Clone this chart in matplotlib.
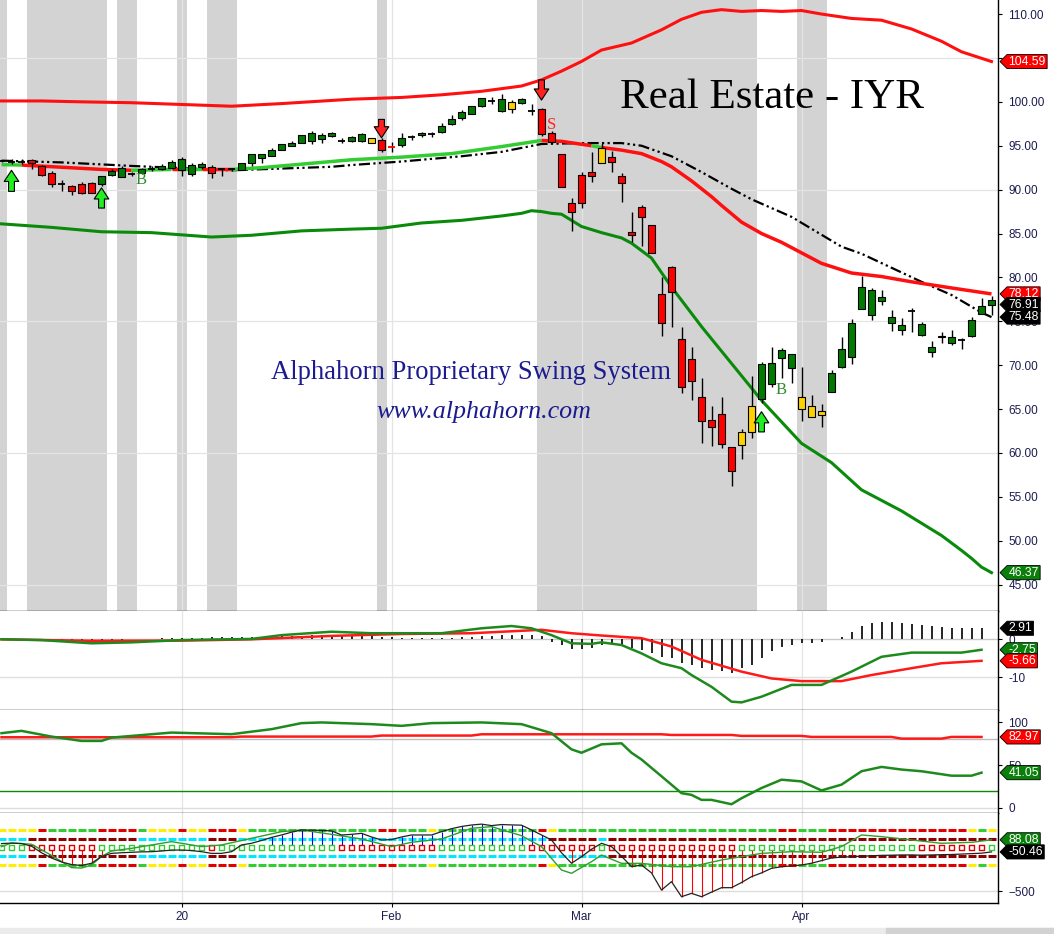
import numpy as np
import matplotlib
matplotlib.use("Agg")
import matplotlib.pyplot as plt
from matplotlib.path import Path
from matplotlib.patches import Rectangle, FancyArrowPatch

plt.rcParams['font.family'] = ['Liberation Sans', 'DejaVu Sans']

# trading-day index: 0 = first session of 2020
idx = np.arange(-18, 82)

opens = [93.26, 93.2, 93.2, 93.4, 92.7, 91.85, 90.6, 90.4, 90.6, 90.7,
         90.6, 91.67, 91.47, 91.75, 91.9, 92.4, 92.3, 92.42, 92.23, 91.78,
         92.53, 92.6, 92.35, 92.3, 92.23, 93.07, 93.56, 93.86, 94.5, 95.0,
         95.34, 95.57, 95.72, 96.1, 95.57, 95.57, 95.57, 95.27, 95.6, 94.9,
         95.08, 95.95, 96.2, 96.33, 96.52, 97.47, 98.19, 98.61, 99.52, 100.13,
         98.99, 99.14, 99.83, 98.99, 99.14, 96.48, 94.05, 88.44, 91.66, 91.97,
         93.07, 93.68, 91.55, 85.2, 87.98, 85.97, 78.07, 81.22, 72.95, 70.67,
         66.34, 63.76, 64.44, 60.65, 60.91, 62.43, 66.11, 67.86, 70.78, 69.64,
         65.01, 64.06, 64.33, 66.99, 69.76, 70.89, 76.36, 75.72, 77.35, 74.77,
         74.01, 76.21, 73.44, 71.46, 73.17, 72.49, 72.87, 73.32, 75.79, 77.42]
highs = [93.4, 93.5, 93.45, 93.5, 92.8, 92.15, 91.1, 90.5, 90.9, 90.85,
         91.55, 92.4, 92.7, 92.05, 92.5, 92.65, 92.9, 93.37, 93.68, 93.0,
         93.18, 92.8, 92.5, 92.45, 93.0, 94.05, 94.1, 94.7, 95.19, 95.57,
         96.22, 96.67, 96.4, 96.6, 95.84, 96.1, 96.4, 95.84, 95.84, 95.45,
         96.4, 96.22, 96.6, 96.6, 97.55, 98.5, 99.07, 99.52, 100.39, 100.5,
         100.89, 100.2, 100.4, 99.75, 99.25, 96.7, 94.05, 89.0, 92.04, 94.32,
         95.27, 94.43, 91.85, 87.49, 88.2, 85.97, 80.08, 81.3, 74.4, 72.1,
         68.5, 65.35, 66.42, 60.65, 62.7, 68.77, 70.4, 72.04, 71.92, 71.24,
         69.83, 66.6, 65.58, 69.45, 73.17, 75.22, 80.16, 78.75, 78.56, 76.3,
         75.34, 76.55, 74.96, 72.79, 73.82, 74.01, 73.06, 75.45, 77.61, 77.88]
lows = [93.1, 92.9, 92.95, 92.4, 91.5, 90.3, 89.8, 89.4, 89.46, 89.65,
        90.4, 91.5, 91.4, 91.5, 91.8, 92.15, 92.2, 92.3, 91.55, 91.55,
        92.3, 91.36, 91.6, 92.15, 92.23, 92.7, 93.07, 93.86, 94.5, 95.0,
        95.34, 95.19, 95.27, 96.0, 95.27, 95.46, 95.46, 95.27, 94.32, 94.32,
        94.9, 95.65, 96.03, 95.95, 96.4, 97.36, 97.93, 98.61, 99.37, 99.75,
        98.88, 98.76, 99.75, 98.5, 96.1, 95.27, 90.26, 85.32, 87.94, 90.9,
        93.0, 92.04, 88.63, 84.07, 83.6, 82.82, 73.33, 74.4, 66.87, 66.0,
        61.1, 60.8, 60.53, 56.24, 59.28, 61.67, 65.66, 67.5, 68.51, 67.94,
        63.68, 64.06, 63.0, 66.9, 69.64, 70.1, 76.36, 75.15, 76.85, 73.93,
        73.44, 73.82, 73.33, 70.97, 72.49, 72.3, 71.8, 73.17, 75.79, 75.7]
closes = [93.26, 93.2, 93.2, 93.0, 91.7, 90.6, 90.6, 89.85, 89.6, 89.65,
          91.55, 92.15, 92.5, 91.75, 92.4, 92.4, 92.7, 93.18, 93.5, 92.8,
          92.9, 91.85, 92.35, 92.3, 93.0, 94.05, 94.05, 94.5, 95.19, 95.34,
          96.22, 96.48, 96.22, 96.48, 95.57, 95.95, 96.29, 95.84, 94.5, 94.9,
          95.84, 95.95, 96.4, 96.33, 97.24, 98.04, 98.8, 99.52, 100.39, 100.13,
          100.28, 100.01, 100.28, 98.99, 96.33, 95.46, 90.26, 87.41, 88.51, 91.59,
          94.7, 93.1, 90.79, 84.8, 86.84, 82.82, 74.77, 78.38, 67.48, 68.24,
          63.68, 63.0, 61.03, 57.91, 62.43, 65.35, 70.14, 70.2, 71.73, 71.24,
          66.34, 65.35, 64.78, 69.08, 71.8, 74.77, 78.87, 78.56, 77.8, 75.45,
          74.58, 76.21, 74.69, 72.03, 73.36, 73.17, 72.87, 75.15, 76.78, 76.91]
# swing-system candle colour: g = long, r = short, y = neutral, k = doji
signal = ['k', 'k', 'k', 'r', 'r', 'r', 'k', 'r', 'r', 'r',
          'g', 'g', 'g', 'k', 'g', 'k', 'g', 'g', 'g', 'g',
          'g', 'r', 'k', 'k', 'g', 'g', 'g', 'g', 'g', 'g',
          'g', 'g', 'g', 'g', 'k', 'g', 'g', 'y', 'r', 'r',
          'g', 'k', 'g', 'k', 'g', 'g', 'g', 'g', 'g', 'k',
          'g', 'y', 'g', 'k', 'r', 'r', 'r', 'r', 'r', 'r',
          'y', 'r', 'r', 'r', 'r', 'r', 'r', 'r', 'r', 'r',
          'r', 'r', 'r', 'r', 'y', 'y', 'g', 'g', 'g', 'g',
          'y', 'y', 'y', 'g', 'g', 'g', 'g', 'g', 'g', 'g',
          'g', 'k', 'g', 'g', 'g', 'g', 'k', 'g', 'g', 'g']

# shaded sessions (first, last)
shade = [(-18, -18), (-15, -8), (-6, -5), (0, 0), (3, 5), (20, 20), (36, 57), (62, 64)]

upper_x = [-18, -14, -10, -5, 0, 5, 10, 17, 22, 26, 30, 34, 36, 38, 40, 42, 45, 48,
           50, 52, 54, 56, 58, 60, 62, 64, 67, 70, 73, 76, 78, 81]
upper_y = [100.1, 100.1, 100.0, 99.9, 99.7, 99.5, 99.8, 100.3, 100.5, 100.8, 101.2, 101.8,
           102.5, 103.5, 104.6, 105.9, 106.7, 108.2, 109.4, 110.2, 110.5, 110.3, 110.4,
           110.3, 110.4, 110.0, 109.5, 109.3, 108.3, 106.9, 105.7, 104.59]
lower_x = [-18, -13, -8, -3, 3, 7, 12, 17, 20, 22, 24, 28, 32, 34, 35, 36, 37, 38, 39,
           40, 42, 44, 45, 47, 49, 52, 55, 58, 62, 65, 68, 70, 72, 76, 78, 79, 80, 81]
lower_y = [86.1, 85.7, 85.2, 85.1, 84.6, 84.8, 85.3, 85.5, 85.6, 85.9, 86.2, 86.5, 87.0,
           87.3, 87.6, 87.5, 87.3, 87.2, 86.5, 85.8, 85.1, 84.5, 83.9, 82.2, 78.9, 74.4,
           70.2, 66.0, 61.1, 58.9, 55.8, 54.6, 53.4, 50.6, 48.9, 48.0, 47.0, 46.37]
mid_x = [-18, -16, -12, -8, -5, -3, -1, 0, 2, 5, 8, 12, 17, 22, 27, 32, 36, 38, 41, 42,
         44, 46, 48, 49, 51, 53, 54, 56, 58, 60, 62, 64, 67, 70, 73, 77, 81]
mid_y = [92.85, 92.8, 92.55, 92.3, 92.2, 92.25, 92.3, 92.3, 92.3, 92.3, 92.5, 92.9, 93.4,
         93.7, 94.1, 94.9, 95.6, 95.5, 95.0, 94.8, 94.5, 94.1, 93.2, 92.6, 91.0, 89.2,
         88.2, 86.3, 85.0, 84.0, 82.8, 81.6, 80.5, 80.1, 79.5, 78.8, 78.12]
mid_trend = [(-18, -16, 'g'), (-16, -5, 'r'), (-5, -1, 'g'), (-1, 0, 'r'), (0, 2, 'g'),
             (2, 5, 'r'), (5, 36, 'g'), (36, 41, 'r'), (41, 42, 'g'), (42, 81, 'r')]
slow_x = [-18, -12, -5, 5, 15, 17, 22, 28, 32, 36, 40, 44, 46, 49, 52, 55, 57, 61, 66,
          68, 71, 74, 77, 80, 81]
slow_y = [93.3, 93.1, 92.7, 92.2, 92.6, 92.8, 93.2, 93.8, 94.3, 95.2, 95.3, 95.3, 95.0,
          93.8, 92.0, 90.1, 88.9, 86.9, 83.5, 82.7, 81.1, 79.5, 78.0, 76.0, 75.48]

# signals: (session, arrow base, arrow tip)
buy_arrows = [(-17, 89.8, 92.2), (-8, 87.9, 90.2), (58, 62.4, 64.7)]
sell_arrows = [(20, 98.0, 95.9), (36, 102.5, 100.2)]
letters = [(-4, 91.1, 'B', '#2E8B2E'), (37, 97.4, 'S', '#FF2020'), (60, 67.2, 'B', '#2E8B2E')]

# MACD panel
macd_x = [-18, -14, -9, -5, 0, 7, 10, 15, 19, 22, 26, 30, 33, 35, 37, 39, 41, 42, 44,
          46, 48, 50, 51, 53, 55, 56, 58, 61, 64, 67, 70, 73, 78, 80]
macd_y = [0, -0.2, -1.05, -0.8, -0.2, 0.1, 1.1, 2.0, 1.6, 1.6, 1.6, 2.9, 3.5, 2.9, 1.1,
          -1.05, -1.2, -0.8, -1.5, -3.7, -6.3, -7.6, -9.4, -12.5, -16.4, -16.6, -15.1,
          -12.0, -12.0, -8.5, -4.6, -3.5, -3.5, -2.75]
sig_x = [-18, -9, 0, 7, 15, 22, 29, 36, 39, 42, 46, 49, 52, 56, 59, 62, 66, 69, 73, 76, 80]
sig_y = [0, -0.4, -0.35, 0, 0.9, 1.4, 1.6, 2.5, 1.6, 1.0, 0.3, -1.9, -5.4, -8.5, -10.3,
         -11.0, -11.0, -9.4, -7.6, -6.3, -5.66]
hist_x = np.arange(-18, 81)
hist_y = [0.0, -0.05, -0.1, -0.2, -0.3, -0.4, -0.5, -0.5, -0.5, -0.4,
          -0.3, -0.2, -0.1, 0.0, 0.1, 0.2, 0.3, 0.3, 0.4, 0.4,
          0.4, 0.5, 0.5, 0.5, 0.5, 0.6, 0.7, 0.8, 0.9, 1.0,
          1.0, 1.1, 1.1, 1.1, 1.0, 1.0, 0.9, 0.8, 0.7, 0.5,
          0.4, 0.4, 0.3, 0.3, 0.3, 0.4, 0.5, 0.6, 0.8, 1.0,
          1.1, 1.2, 1.2, 1.1, 0.9, -0.6, -1.5, -2.5, -2.5, -2.4,
          -1.5, -1.3, -1.5, -2.4, -2.8, -3.7, -4.6, -5.0, -6.3, -6.8,
          -7.6, -8.1, -8.3, -8.8, -7.6, -6.8, -5.0, -3.2, -2.1, -1.5,
          -1.05, -0.9, -0.8, 0.1, 0.7, 2.0, 3.5, 4.2, 4.6, 4.5,
          4.2, 4.0, 3.8, 3.6, 3.3, 2.9, 2.9, 2.9, 2.91]

# stochastic panel
stk_x = [-18, -16, -13, -10, -8, -7, -1, 5, 9, 12, 14, 19, 22, 25, 30, 34, 37, 39, 40, 42,
         44, 45, 46, 48, 50, 51, 52, 53, 55, 56, 58, 60, 62, 64, 66, 68, 70, 72, 74, 77,
         79, 80]
stk_y = [87.4, 90.1, 83.4, 78.3, 78.3, 82.2, 88.1, 86.2, 92.1, 99.2, 100, 98, 96, 99.2,
         100, 98, 87.4, 68.4, 64.4, 74.3, 75.5, 64.4, 56.5, 36.8, 17, 15, 9.1, 9.1, 4, 11,
         23, 32.8, 30.8, 20.2, 27, 42.7, 47.8, 44.7, 42.7, 37.5, 37.5, 41.05]
std_x = [-18, 5, 6, 19, 20, 29, 30, 48, 49, 55, 56, 62, 63, 71, 72, 76, 77, 80]
std_y = [82.6, 82.6, 83.4, 83.4, 84.6, 84.6, 86.1, 86.1, 85.3, 85.3, 84.2, 84.2, 83.0,
         83.0, 81.0, 81.0, 83.0, 82.97]

# CCI panel
cci_fast = [45, 50, 45, 15, -60, -120, -165, -195, -206, -180,
            -103, -67, -60, -55, -50, -48, -40, -30, -29, -35,
            -48, -67, -67, -48, 29, 48, 80, 115, 143, 175,
            200, 198, 195, 190, 143, 150, 162, 120, 86, 90,
            120, 143, 143, 143, 181, 215, 240, 257, 267, 250,
            262, 258, 255, 200, 143, 86, -60, -180, -105, -20,
            48, 10, -100, -219, -200, -290, -486, -390, -562, -524,
            -562, -510, -459, -459, -400, -333, -290, -238, -220, -210,
            -200, -180, -150, -120, -110, -105, -100, -95, -90, -88,
            -85, -85, -88, -85, -82, -80, -75, -70, -65, -50.46]
slow_cci_x = [-18, -17, -15, -13, -11, -10, -9, -8, -7, -5, -1, 2, 4, 7, 10, 12, 15, 18,
              21, 23, 26, 29, 31, 34, 36, 38, 39, 41, 42, 44, 46, 49, 51, 54, 58, 61, 64,
              66, 68, 70, 73, 76, 79, 81]
slow_cci_y = [10, 52, 37, -90, -230, -235, -200, -103, -40, -10, 67, 10, 29, 105, 181, 200,
              150, 97, 10, 59, 97, 219, 238, 135, 10, -257, -295, -162, -86, -181, -181,
              -219, -219, -143, -67, -48, -55, 10, 143, 124, 86, 48, 59, 88.08]
outer_runs = [('y', 4), ('r', 1), ('g', 5), ('r', 4), ('g', 1), ('y', 3), ('r', 1), ('y', 2),
              ('r', 3), ('y', 1), ('g', 13), ('r', 2), ('g', 3), ('y', 1), ('g', 10), ('r', 1),
              ('y', 1), ('g', 22), ('r', 2), ('g', 3), ('r', 14), ('y', 1), ('g', 1), ('y', 1)]
upper_runs = [('c', 3), ('m', 11), ('c', 7), ('m', 3), ('c', 31), ('m', 5), ('c', 1), ('m', 39)]
lower_runs = [('c', 3), ('m', 11), ('c', 7), ('m', 3), ('c', 37), ('m', 39)]
zero_runs = [('g', 3), ('r', 7), ('g', 11), ('r', 1), ('g', 12), ('r', 10), ('g', 9), ('r', 7),
             ('g', 1), ('r', 13), ('g', 18), ('r', 7), ('g', 1)]

month_pos = [0, 21, 40, 62]
month_lbl = ['20', 'Feb', 'Mar', 'Apr']

candle_col = {'g': '#007A00', 'r': '#FF0000', 'y': '#FFD000', 'k': 'black'}
strip_col = {'y': '#FFEE00', 'r': '#E00000', 'g': '#33CC33', 'c': '#00E8FF', 'm': '#8B0000'}
tick_col = '#1C1C50'


def expand(runs):
    out = []
    for code, n in runs:
        out += [code] * n
    return out


def tag_box(x0, y0, width, height, mutation_size):
    pad = 0.22 * mutation_size
    x0, y0 = x0 - pad * 0.5, y0 - pad * 0.4
    x1, y1 = x0 + width + pad, y0 + height + pad * 0.8
    ym = (y0 + y1) / 2
    tip = (y1 - y0) / 2
    return Path([(x0 - tip, ym), (x0, y1), (x1, y1), (x1, y0), (x0, y0), (x0 - tip, ym)],
                closed=True)


def tag(ax, value, color):
    ax.annotate(f"{value:.2f}", xy=(1, value), xycoords=('axes fraction', 'data'),
                xytext=(7.5, 0), textcoords='offset points', ha='left', va='center',
                color='white', fontsize=8.8, annotation_clip=False, zorder=10,
                bbox=dict(boxstyle=tag_box, fc=color, ec='black', lw=0.6))


W, H = 1054, 934
fig = plt.figure(figsize=(W / 100, H / 100), dpi=100)


def panel(top, bottom):
    ax = fig.add_axes([0, 1 - bottom / H, 998 / W, (bottom - top) / H])
    ax.set_xlim(-18.15, 81.65)
    for s in ('top', 'left'):
        ax.spines[s].set_visible(False)
    for s in ('right', 'bottom'):
        ax.spines[s].set_linewidth(1.0)
    ax.yaxis.tick_right()
    ax.tick_params(axis='y', direction='out', length=3, width=0.8, pad=4.5,
                   labelsize=8.5, labelcolor=tick_col)
    ax.set_xticks([])
    for m in month_pos:
        ax.axvline(m, color='#E4E4E4', lw=0.9, zorder=0.5)
    return ax


# ---- main price panel ----
ax = panel(0, 611)
ax.set_ylim(42.0, 111.6)
levels = np.arange(45, 111, 5)
ax.set_yticks(levels)
# the 105 label sits under the upper-band tag
ax.set_yticklabels(['' if v == 105 else f"{v:.2f}" for v in levels])
for a, b in shade:
    ax.axvspan(a - 0.5, b + 0.5, color='#D3D3D3', lw=0, zorder=0)
for lvl in (45, 60, 75, 90, 105):
    ax.axhline(lvl, color='#E4E4E4', lw=0.9, zorder=0.5)

ax.plot(upper_x, upper_y, color='#FF1010', lw=2.2, zorder=2)
ax.plot(lower_x, lower_y, color='#0A8A0A', lw=2.2, zorder=2)
ax.plot(slow_x, slow_y, color='black', lw=1.6, dashes=(5, 1.5, 1, 1.5, 1, 1.5), zorder=2)
mx, my = np.array(mid_x), np.array(mid_y)
for a, b, code in mid_trend:
    sel = (mx >= a) & (mx <= b)
    ax.plot(mx[sel], my[sel], color='#33CC33' if code == 'g' else '#FF1010',
            lw=2.5, solid_capstyle='butt', zorder=2.2)

o, c = np.array(opens), np.array(closes)
lo_b, hi_b = np.minimum(o, c), np.maximum(o, c)
sig = np.array(signal)
ax.vlines(idx, lows, highs, color='black', lw=1.0, zorder=3)
solid = (hi_b - lo_b) > 0.08
ax.bar(idx[solid], (hi_b - lo_b)[solid], bottom=lo_b[solid], width=0.7,
       color=[candle_col[k] for k in sig[solid]], edgecolor='black', linewidth=0.8, zorder=4)
ax.hlines(c[~solid], idx[~solid] - 0.38, idx[~solid] + 0.38,
          colors=[candle_col[k] for k in sig[~solid]], lw=1.3, zorder=4)

arrow_style = 'simple,head_length=0.8,head_width=1.05,tail_width=0.42'
for arrows, fill in ((buy_arrows, '#22EE22'), (sell_arrows, '#FF2020')):
    for i, base, tip in arrows:
        ax.add_patch(FancyArrowPatch((i, base), (i, tip), arrowstyle=arrow_style,
                                     mutation_scale=10, shrinkA=0, shrinkB=0,
                                     fc=fill, ec='black', lw=0.8, zorder=5))
for i, v, t, col in letters:
    ax.text(i, v, t, color=col, fontsize=12, family='Liberation Serif',
            ha='center', va='center', zorder=5)

for v, col in [(104.59, '#FF0000'), (78.12, '#FF0000'), (76.91, 'black'),
               (75.48, 'black'), (46.37, '#0A7F0A')]:
    tag(ax, v, col)

# ---- MACD ----
ax2 = panel(611, 710)
ax2.set_ylim(-18.6, 7.45)
ax2.set_yticks([0, -10])
ax2.set_yticklabels(['0', '-10'])
ax2.axhline(0, color='#C8C8C8', lw=1.0, zorder=0.5)
ax2.axhline(-10, color='#E0E0E0', lw=1.0, zorder=0.5)
ax2.vlines(hist_x, 0, hist_y, color='black', lw=1.2, zorder=2)
ax2.plot(sig_x, sig_y, color='#FF1A1A', lw=1.8, zorder=3)
ax2.plot(macd_x, macd_y, color='#1E8A1E', lw=1.8, zorder=3)
for v, col in [(2.91, 'black'), (-2.75, '#0A7F0A'), (-5.66, '#FF0000')]:
    tag(ax2, v, col)

# ---- stochastic ----
ax3 = panel(710, 813)
ax3.set_ylim(-6.3, 114.6)
ax3.set_yticks([0, 50, 100])
ax3.axhline(80, color='#BDBDBD', lw=1.0, zorder=0.5)
ax3.axhline(0, color='#DDDDDD', lw=1.0, zorder=0.5)
ax3.axhline(20, color='#0A8A0A', lw=1.0, zorder=0.6)
ax3.plot(std_x, std_y, color='#FF1A1A', lw=1.8, zorder=3)
ax3.plot(stk_x, stk_y, color='#1E8A1E', lw=1.8, zorder=3)
for v, col in [(82.97, '#FF0000'), (41.05, '#0A7F0A')]:
    tag(ax3, v, col)

# ---- CCI ----
ax4 = panel(813, 903)
ax4.set_ylim(-634, 394)
ax4.set_yticks([-500])
ax4.axhline(-500, color='#DDDDDD', lw=1.0, zorder=0.5)
for lvl, runs in [(200, outer_runs), (-200, outer_runs), (100, upper_runs), (-100, lower_runs)]:
    cols = [strip_col[k] for k in expand(runs)]
    ax4.hlines(np.full(len(idx), lvl), idx - 0.4, idx + 0.4, colors=cols, lw=2.2, zorder=1)
cf = np.array(cci_fast)
up = cf > 100
dn = cf < -100
ax4.vlines(idx[up], 0, cf[up], color='#0000FF', lw=0.8, zorder=1.5)
ax4.vlines(idx[dn], cf[dn], 0, color='#FF0000', lw=0.8, zorder=1.5)
zc = [strip_col[k] for k in expand(zero_runs)]
ax4.scatter(idx, np.zeros(len(idx)), marker='s', s=13, facecolors='white',
            edgecolors=zc, linewidths=1.0, zorder=2)
ax4.plot(slow_cci_x, slow_cci_y, color='#2E9E2E', lw=1.0, zorder=3)
ax4.plot(idx, cf, color='#222222', lw=0.9, zorder=3)
for v, col in [(88.08, '#0A7F0A'), (-50.46, 'black')]:
    tag(ax4, v, col)
ax4.set_xticks(month_pos)
ax4.set_xticklabels(month_lbl)
ax4.tick_params(axis='x', direction='out', length=3, width=0.8, pad=3,
                labelsize=8.5, labelcolor=tick_col)

# ---- captions ----
fig.text(772 / W, 1 - 108 / H, 'Real Estate - IYR', family='Liberation Serif',
         fontsize=31, color='black', ha='center', va='baseline')
fig.text(271 / W, 1 - 379 / H, 'Alphahorn Proprietary Swing System', family='Liberation Serif',
         fontsize=19.2, color='#1B1B8F', ha='left', va='baseline')
fig.text(376 / W, 1 - 418 / H, 'www.alphahorn.com', family='Liberation Serif',
         fontsize=18.7, style='italic', color='#1B1B8F', ha='left', va='baseline')

# scroll strip at the bottom
fig.patches.append(Rectangle((0, 0), 1, 6 / H, transform=fig.transFigure,
                             color='#EBEBEB', zorder=0))
fig.patches.append(Rectangle((886 / W, 0), 1 - 886 / W, 6 / H, transform=fig.transFigure,
                             color='#D2D2D2', zorder=0))

fig.savefig('out.png', dpi=100)
